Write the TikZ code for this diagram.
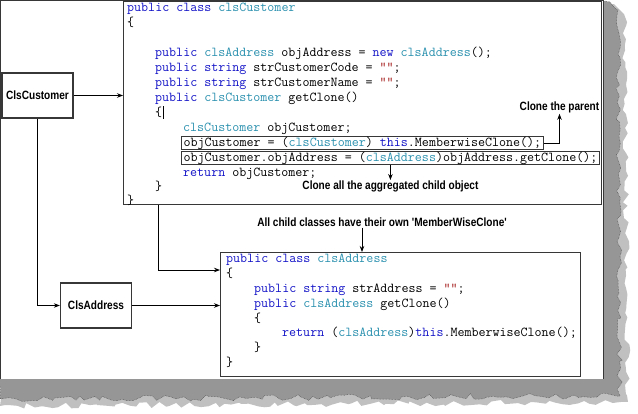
\documentclass[tikz,border=0pt]{standalone}
\usepackage{fontspec}
\setmainfont{Liberation Sans}
\newfontfamily\labelfont[FakeStretch=0.84]{Liberation Sans}
\usetikzlibrary{positioning,arrows.meta,decorations.pathmorphing}
\definecolor{colorkey}   {RGB}{20 ,20 ,200}
\definecolor{colortype}  {RGB}{43 ,145,175}
\definecolor{colorstr}   {RGB}{163,21 ,21 }
\definecolor{colorframe} {RGB}{55 ,55 ,55 }
\definecolor{colorshadow}{RGB}{150,150,150}
\newcommand{\kw}[1]{\textcolor{colorkey}{#1}}
\newcommand{\ty}[1]{\textcolor{colortype}{#1}}
\newcommand{\strlit}[1]{\textcolor{colorstr}{#1}}

\begin{document}
\begin{tikzpicture}[
    x=1pt, y=-1pt,
    code/.style={anchor=base west,inner sep=0pt,font={\ttfamily\fontsize{13.62}{15}\selectfont}},
    hlbox/.style={code,draw=colorframe,line width=1pt,inner xsep=2.5pt,inner ysep=1pt,text height=8.5pt,text depth=2.5pt},
    codebox/.style={draw=colorframe,line width=1pt,anchor=north west,inner sep=0pt},
    classbox/.style={draw=colorframe,line width=1.3pt,minimum width=71pt,minimum height=45pt,font={\labelfont\bfseries\fontsize{12}{14}\selectfont}},
    txt/.style={inner sep=1pt,font={\labelfont\bfseries\fontsize{12}{14}\selectfont}},
    conn/.style={-{Stealth[length=6pt,width=4.5pt]},line width=0.8pt},
]
    \useasboundingbox (0,0) rectangle (638,413);

    % Page and torn shadow
    \pgfmathsetseed{7}
    \fill[colorshadow!60,decorate,decoration={random steps,segment length=6pt,amplitude=3pt}]
        (596,0) -- (614,4) -- (624,14) -- (628,402) -- (0,406) -- (0,370) -- cycle;
    \pgfmathsetseed{11}
    \filldraw[fill=colorshadow,draw=black!70,densely dotted,line width=0.5pt,decorate,decoration={random steps,segment length=6pt,amplitude=3pt}]
        (596,0) -- (610,2) -- (618,10) -- (620,396) -- (0,399) -- (0,372) -- cycle;
    \fill[white] (0,0) rectangle (603,379);
    \draw[colorframe,line width=1pt] (0.5,379) -- (0.5,0.5) -- (603,0.5) -- (603,379);

    % Code boxes
    \node[codebox,minimum width=478pt,minimum height=203pt] (custcode) at (123,1) {};
    \node[codebox,minimum width=360pt,minimum height=124pt] (addrcode) at (220,252) {};

    % clsCustomer code
    \begin{scope}
    \clip (custcode.north west) rectangle (custcode.south east);
    \foreach \y/\x/\txt [count=\i] in {
        11/127/{\kw{public class} \ty{clsCustomer}},
        26/127/{\{},
        56/155/{\kw{public} \ty{clsAddress} objAddress = \kw{new} \ty{clsAddress}();},
        71/155/{\kw{public string} strCustomerCode = \strlit{""};},
        86/155/{\kw{public string} strCustomerName = \strlit{""};},
        101/155/{\kw{public} \ty{clsCustomer} getClone()},
        116/155/{\{},
        131/183/{\ty{clsCustomer} objCustomer;},
        176/183/{\kw{return} objCustomer;},
        190/155/{\}},
        204/127/{\}}}
        \node[code] (cust\i) at (\x,\y) {\txt};
    \end{scope}
    \draw[line width=0.6pt] (163,106) -- (163,119);
    \node[hlbox] (hlparent) at (180.5,146) {objCustomer = (\ty{clsCustomer}) \kw{this}.MemberwiseClone();};
    \node[hlbox] (hlchild) at (180.5,161) {objCustomer.objAddress = (\ty{clsAddress})objAddress.getClone();};

    % clsAddress code
    \foreach \y/\x/\txt [count=\i] in {
        262/226/{\kw{public class} \ty{clsAddress}},
        277/226/{\{},
        292/254/{\kw{public string} strAddress = \strlit{""};},
        307/254/{\kw{public} \ty{clsAddress} getClone()},
        322/254/{\{},
        336/282/{\kw{return} (\ty{clsAddress})\kw{this}.MemberwiseClone();},
        351/254/{\}},
        366/226/{\}}}
        \node[code] (addr\i) at (\x,\y) {\txt};

    % Classes
    \node[classbox] (custcls) at (37.5,95.5) {ClsCustomer};
    \node[classbox] (addrcls) at (96,305.5) {ClsAddress};

    % Notes
    \node[txt] (parentlbl) at (559.5,107) {Clone the parent};
    \node[txt,below=15pt of hlchild.south,anchor=north] (childlbl) {Clone all the aggregated child object};
    \node[txt] (ownlbl) at (382,222) {All child classes have their own 'MemberWiseClone'};

    % Connectors
    \draw[conn] (custcls.east) -- (custcode.west |- custcls.east);
    \draw[conn] (custcls.south) |- (addrcls.west);
    \draw[conn] (addrcls.east) -- (addrcode.west |- addrcls.east);
    \draw[conn] ([xshift=35pt]custcode.south west) |- ([yshift=-18pt]addrcode.north west);
    \draw[conn] (hlparent.east) -| (parentlbl.south);
    \draw[conn] (hlchild.south) -- (childlbl.north);
    \draw[conn] ([xshift=-20pt]ownlbl.south) -- ([xshift=-20pt]ownlbl.south |- addrcode.north);

\end{tikzpicture}
\end{document}
